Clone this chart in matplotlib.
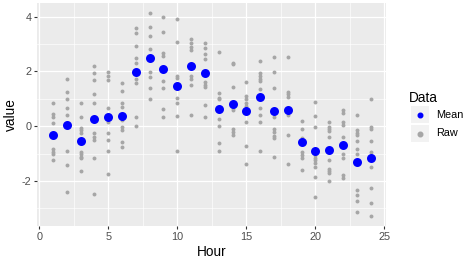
import matplotlib
matplotlib.use("Agg")
import matplotlib.pyplot as plt
from matplotlib.patches import Rectangle
import numpy as np

plt.rcParams['font.family'] = ['Liberation Sans', 'DejaVu Sans']

hours = list(range(1, 25))
raw_values = [
    [0.83, 0.46, 0.32, 0.10, -0.85, -0.94, -1.03, -1.22],
    [1.71, 1.26, 1.01, 0.67, 0.40, -0.90, -1.43, -2.41],
    [0.83, 0.32, -0.05, -0.15, -0.24, -0.94, -1.03, -1.12, -1.18, -1.64],
    [2.20, 1.95, 1.68, 1.17, 0.85, -0.24, -0.41, -0.49, -1.18, -2.49],
    [1.99, 1.83, 1.68, 0.65, 0.16, -0.24, -0.49, -0.92, -1.76],
    [1.59, 1.29, 0.83, 0.71, 0.22, -0.02, -0.15, -0.57, -0.76],
    [3.58, 3.40, 2.93, 2.48, 2.32, 1.71, 1.59, 0.32, 0.01],
    [4.15, 3.61, 3.30, 2.81, 1.99, 1.78, 1.38, 0.99],
    [3.98, 3.43, 2.68, 2.56, 1.65, 1.38, 0.62, 0.34],
    [3.92, 3.09, 1.83, 1.75, 1.04, 0.83, 0.37, -0.90],
    [3.17, 3.05, 2.90, 2.78, 1.83, 1.71, 1.50, 0.40],
    [3.05, 2.84, 2.64, 2.44, 1.62, 1.50, 1.42, 0.79, 0.32],
    [2.72, 1.22, 1.04, 1.00, 0.28, 0.01, -0.63, -0.90],
    [2.32, 2.27, 1.42, 0.68, 0.59, -0.09, -0.21, -0.33],
    [1.62, 1.10, 0.98, 0.85, 0.73, 0.16, -0.73, -1.37],
    [2.39, 1.93, 1.83, 1.73, 1.64, 1.37, 0.65, 0.40, 0.14, -0.90],
    [2.52, 1.97, 1.40, 0.34, -0.09, -0.23, -0.35, -0.45, -1.12],
    [2.54, 1.26, 1.16, 1.07, 0.40, -0.33, -1.37],
    [0.19, -0.10, -0.45, -0.60, -0.96, -1.05, -1.16, -1.60],
    [0.87, 0.38, -0.02, -1.04, -1.15, -1.25, -1.34, -1.51, -1.86, -2.59],
    [0.16, -0.02, -0.10, -0.17, -0.39, -1.22, -1.55, -1.64, -1.73, -2.00],
    [0.59, 0.49, 0.16, 0.06, -0.39, -1.00, -1.18, -1.79, -1.88],
    [0.40, -0.15, -0.24, -0.33, -0.54, -0.82, -1.00, -2.32, -2.53, -2.74, -3.14],
    [0.98, -0.02, -0.12, -0.54, -0.94, -1.49, -2.25, -2.80, -3.29],
]
mean_values = [-0.33, 0.06, -0.55, 0.28, 0.32, 0.37, 1.99, 2.50, 2.08, 1.48, 2.20, 1.95,
               0.61, 0.81, 0.56, 1.07, 0.55, 0.59, -0.57, -0.90, -0.88, -0.70, -1.31, -1.18]
x_ticks = [0, 5, 10, 15, 20, 25]
y_ticks = [-2, 0, 2, 4]
legend_title = "Data"
legend_labels = ["Mean", "Raw"]

W, H = 474, 258
fig = plt.figure(figsize=(W / 100, H / 100), dpi=100)
fig.patch.set_facecolor('white')

left, right, top, bottom = 37.2, 386.4, 2.5, 226.3
ax = fig.add_axes([left / W, 1 - bottom / H, (right - left) / W, (bottom - top) / H])
ax.set_facecolor('#EBEBEB')

raw_x = [h for h, vals in zip(hours, raw_values) for _ in vals]
raw_y = [v for vals in raw_values for v in vals]
ax.scatter(raw_x, raw_y, s=8, color='#A6A6A6', linewidths=0, zorder=3)
ax.scatter(hours, mean_values, s=42, color='#0000FF', linewidths=0, zorder=4)

xr = max(raw_x) - min(raw_x)
ax.set_xlim(min(raw_x) - 0.05 * xr, max(raw_x) + 0.05 * xr)
yr = max(raw_y) - min(raw_y)
ax.set_ylim(min(raw_y) - 0.05 * yr, max(raw_y) + 0.05 * yr)

ax.set_xticks(x_ticks)
ax.set_yticks(y_ticks)
ax.set_xticks([2.5, 7.5, 12.5, 17.5, 22.5], minor=True)
ax.set_yticks([-3, -1, 1, 3], minor=True)
ax.set_yticklabels([str(t) for t in y_ticks])
ax.grid(which='major', color='white', linewidth=0.9, zorder=0)
ax.grid(which='minor', color='white', linewidth=0.45, zorder=0)
ax.set_axisbelow(True)
for s in ax.spines.values():
    s.set_visible(False)
ax.tick_params(which='major', length=2.3, width=0.8, color='#333333', labelsize=7.8,
               labelcolor='#4D4D4D', pad=1.8)
ax.tick_params(which='minor', length=0)
ax.set_xlabel('Hour', fontsize=9.8, labelpad=2.5)
ax.set_ylabel('value', fontsize=9.8, labelpad=3)

# legend
fig.text(409 / W, 1 - 98 / H, legend_title, fontsize=9.8, va='center', ha='left')
key_colors = ['#0000FF', '#A6A6A6']
key_y = [114.5, 133.5]
for lab, col, ky in zip(legend_labels, key_colors, key_y):
    fig.patches.append(Rectangle((411 / W, 1 - (ky + 8.8) / H), 17.6 / W, 17.6 / H,
                                 transform=fig.transFigure, facecolor='#F2F2F2',
                                 edgecolor='none'))
    fig.lines.append(plt.Line2D([419.8 / W], [1 - ky / H], marker='o', markersize=3.3,
                                color=col, linestyle='none', transform=fig.transFigure))
    fig.text(436 / W, 1 - ky / H, lab, fontsize=7.8, va='center', ha='left')

fig.savefig('out.png', dpi=100)
